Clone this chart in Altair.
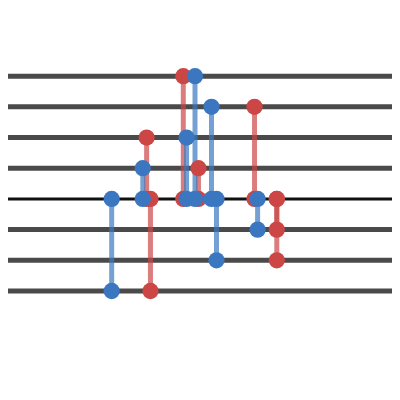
import altair as alt
import pandas as pd

# horizontal reference levels
grid_levels = [-3, -2, -1, 1, 2, 3, 4]
zero_level = [0]

# lollipop series (x position, value)
red_x = [36.1, 37.1, 45.65, 49.6, 64.2, 70.0, 70.0]
red_v = [2, -3, 4, 1, 3, -1, -2]
blue_x = [27.0, 35.1, 46.5, 48.7, 53.0, 54.3, 65.0]
blue_v = [-3, 1, 2, 4, 3, -2, -1]

rows = []
for s, xs, vs in (("red", red_x, red_v), ("blue", blue_x, blue_v)):
    for x, v in zip(xs, vs):
        rows.append({"series": s, "x": x, "v": v})
lolli = pd.DataFrame(rows)

pts = []
for s, xs, vs in (("red", red_x, red_v), ("blue", blue_x, blue_v)):
    for x, v in zip(xs, vs):
        pts.append({"series": s, "x": x, "v": v})
        pts.append({"series": s, "x": x, "v": 0})
pts_df = pd.DataFrame(pts)

xs = alt.Scale(domain=[0, 100])
ys = alt.Scale(domain=[-6.29, 6.22])
cscale = alt.Scale(domain=["red", "blue"], range=["#cc4646", "#3b77c1"])

grid = alt.Chart(pd.DataFrame({"y": grid_levels})).mark_rule(
    color="#4a4a4a", strokeWidth=5, clip=False
).encode(
    y=alt.Y("y:Q", scale=ys, axis=None),
    x=alt.value(-8), x2=alt.value(392),
)

zero = alt.Chart(pd.DataFrame({"y": zero_level})).mark_rule(
    color="#111111", strokeWidth=3, clip=False
).encode(
    y=alt.Y("y:Q", scale=ys, axis=None),
    x=alt.value(-8), x2=alt.value(392),
)

rules = alt.Chart(lolli).mark_rule(strokeWidth=5, opacity=0.7).encode(
    x=alt.X("x:Q", scale=xs, axis=None),
    y=alt.Y("v:Q", scale=ys, axis=None),
    y2=alt.datum(0),
    color=alt.Color("series:N", scale=cscale, legend=None),
)

dots = alt.Chart(pts_df).mark_circle(size=265, opacity=1).encode(
    x=alt.X("x:Q", scale=xs, axis=None),
    y=alt.Y("v:Q", scale=ys, axis=None),
    color=alt.Color("series:N", scale=cscale, legend=None),
    order=alt.Order("series:N", sort="descending"),
)

chart = alt.layer(grid, zero, rules, dots).properties(
    width=384, height=384, padding=0, autosize=alt.AutoSizeParams(type="none")
).configure_view(stroke=None)

chart.save("out.html", embed_options={"renderer": "svg", "actions": False})
